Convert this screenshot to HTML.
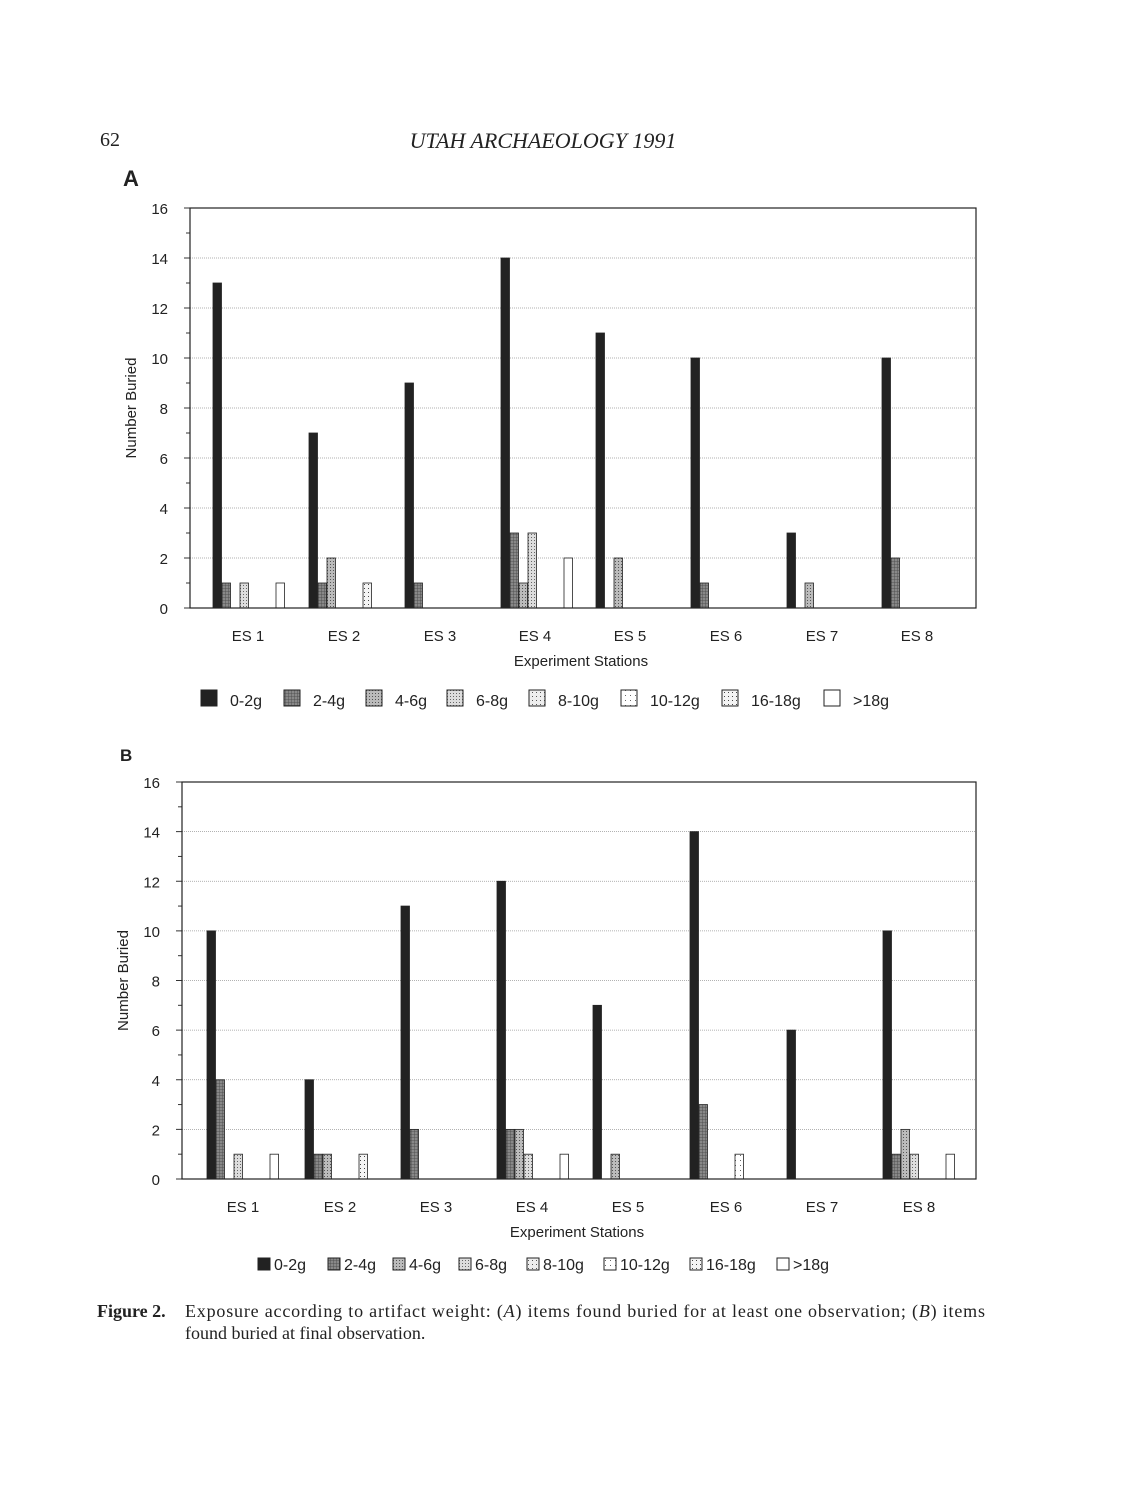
<!DOCTYPE html>
<html><head><meta charset="utf-8">
<style>
body{margin:0;background:#fff;}
svg{display:block}
.t{font-family:"Liberation Sans",sans-serif;fill:#222}
.s{font-family:"Liberation Serif",serif;fill:#222}
</style></head><body>
<svg id="c" width="1121" height="1490" xmlns="http://www.w3.org/2000/svg">
<defs>
<pattern id="p1" width="3" height="3" patternUnits="userSpaceOnUse"><rect width="3" height="3" fill="#888"/><path d="M0 0H3M0 0V3" stroke="#444" stroke-width="0.8"/></pattern>
<pattern id="p2" width="3" height="3" patternUnits="userSpaceOnUse"><rect width="3" height="3" fill="#bbb"/><rect width="1" height="1" fill="#555"/></pattern>
<pattern id="p3" width="3" height="3" patternUnits="userSpaceOnUse"><rect width="3" height="3" fill="#ddd"/><rect width="1" height="1" fill="#666"/></pattern>
<pattern id="p4" width="4" height="4" patternUnits="userSpaceOnUse"><rect width="4" height="4" fill="#eee"/><rect width="1" height="1" fill="#555"/></pattern>
<pattern id="p5" width="5" height="5" patternUnits="userSpaceOnUse"><rect width="5" height="5" fill="#fff"/><rect width="1" height="1" fill="#666"/></pattern>
<pattern id="p6" width="4" height="4" patternUnits="userSpaceOnUse"><rect width="4" height="4" fill="#f4f4f4"/><rect width="1" height="1" fill="#444"/></pattern>
</defs>
<text x="100" y="146" class="s" font-size="20">62</text>
<text x="543" y="148" class="s" font-size="22" font-style="italic" text-anchor="middle">UTAH ARCHAEOLOGY 1991</text>
<text x="123" y="186" class="t" font-size="22" font-weight="bold">A</text>
<text x="120" y="761" class="t" font-size="17" font-weight="bold">B</text>
<text x="97" y="1317" class="s" font-size="18" font-weight="bold">Figure 2.</text>
<text x="185" y="1317" class="s" font-size="18" textLength="800" lengthAdjust="spacing">Exposure according to artifact weight: (<tspan font-style="italic">A</tspan>) items found buried for at least one observation; (<tspan font-style="italic">B</tspan>) items</text>
<text x="185" y="1339" class="s" font-size="18">found buried at final observation.</text>
</svg>
<script>
const svg=document.getElementById('c');const NS='http://www.w3.org/2000/svg';
function el(t,a,txt){const e=document.createElementNS(NS,t);for(const k in a)e.setAttribute(k,a[k]);if(txt!==undefined)e.textContent=txt;svg.appendChild(e);return e;}
const fills=['#222','url(#p1)','url(#p2)','url(#p3)','url(#p4)','url(#p5)','url(#p6)','#fff'];
const labels=['0-2g','2-4g','4-6g','6-8g','8-10g','10-12g','16-18g','>18g'];
function chart(o){
 const u=(o.y0-o.y16)/16;
 for(let v=2;v<=14;v+=2){el('line',{x1:o.x0,x2:o.x1,y1:o.y0-v*u,y2:o.y0-v*u,stroke:'#999','stroke-width':0.8,'stroke-dasharray':'1,1'});}
 for(let v=0;v<=16;v++){const y=o.y0-v*u;el('line',{x1:o.x0-(v%2?4:6),x2:o.x0,y1:y,y2:y,stroke:'#333','stroke-width':1});
  if(v%2==0)el('text',{x:o.x0-22,y:y+6,class:'t','font-size':15,'text-anchor':'end'},v);}
 o.data.forEach((g,gi)=>{g.v.forEach((val,i)=>{if(!val)return;el('rect',{x:g.s+9*i,y:o.y0-val*u,width:8.5,height:val*u,fill:fills[i],stroke:'#222','stroke-width':0.8});});
  el('text',{x:o.cx[gi],y:o.y0+33,class:'t','font-size':15,'text-anchor':'middle'},'ES '+(gi+1));});
 el('rect',{x:o.x0,y:o.y16,width:o.x1-o.x0,height:o.y0-o.y16,fill:'none',stroke:'#222','stroke-width':1.2});
 el('text',{x:o.x1/2+o.x0/2-2,y:o.y0+58,class:'t','font-size':15,'text-anchor':'middle'},'Experiment Stations');
 el('text',{x:0,y:0,class:'t','font-size':15,'text-anchor':'middle',transform:`translate(${o.ylx},${(o.y0+o.y16)/2}) rotate(-90)`},'Number Buried');
 o.lxs.forEach((lx,i)=>{el('rect',{x:lx,y:o.ly-o.ls,width:o.ls,height:o.ls,fill:fills[i],stroke:'#222','stroke-width':1});
  el('text',{x:lx+o.ls+o.lg,y:o.ly,class:'t','font-size':o.lf},labels[i]);});
}
chart({x0:190,x1:976,y0:608,y16:208,ylx:136,cx:[248,344,440,535,630,726,822,917],
 data:[{s:213,v:[13,1,0,1,0,0,0,1]},{s:309,v:[7,1,2,0,0,0,1,0]},{s:405,v:[9,1]},{s:501,v:[14,3,1,3,0,0,0,2]},{s:596,v:[11,0,2]},{s:691,v:[10,1]},{s:787,v:[3,0,1]},{s:882,v:[10,2]}],
 ly:706,ls:16,lg:13,lf:16,lxs:[201,284,366,447,529,621,722,824]});
chart({x0:182,x1:976,y0:1179,y16:782,ylx:128,cx:[243,340,436,532,628,726,822,919],
 data:[{s:207,v:[10,4,0,1,0,0,0,1]},{s:305,v:[4,1,1,0,0,0,1,0]},{s:401,v:[11,2]},{s:497,v:[12,2,2,1,0,0,0,1]},{s:593,v:[7,0,1]},{s:690,v:[14,3,0,0,0,1]},{s:787,v:[6]},{s:883,v:[10,1,2,1,0,0,0,1]}],
 ly:1270,ls:12,lg:4,lf:16,lxs:[258,328,393,459,527,604,690,777]});
</script>
</body></html>
